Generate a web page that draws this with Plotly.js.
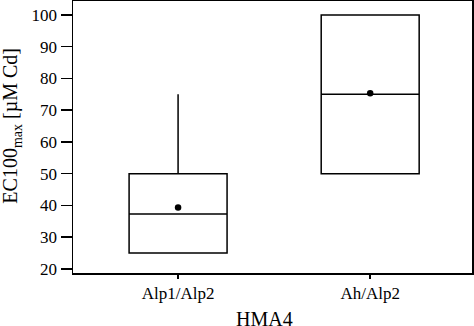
<!DOCTYPE html>
<html>
<head>
<meta charset="utf-8">
<script src="https://cdn.plot.ly/plotly-3.0.1.min.js"></script>
<style>html,body{margin:0;padding:0;background:#fff;}#chart{width:474px;height:326px;}</style>
</head>
<body>
<div id="chart"></div>
<script>
const categories = ["Alp1/Alp2", "Ah/Alp2"];
const lowerWhisker = [25, 50];
const q1Values = [25, 50];
const medianValues = [37.3, 75];
const q3Values = [50, 100];
const upperWhisker = [75, 100];
const meanValues = [39.3, 75.3];
const yTicks = [20, 30, 40, 50, 60, 70, 80, 90, 100];
const xTitle = "HMA4";
const yTitle = "EC100<sub>max</sub> [µM Cd]";

const font = "Liberation Serif, Times New Roman, serif";

const boxTrace = {
  type: "box",
  x: categories,
  q1: q1Values,
  median: medianValues,
  q3: q3Values,
  lowerfence: lowerWhisker,
  upperfence: upperWhisker,
  line: {color: "#000", width: 1.5},
  fillcolor: "rgba(255,255,255,0)",
  whiskerwidth: 0,
  width: 0.51,
  boxpoints: false,
  hoverinfo: "skip",
  showlegend: false
};

const meanTrace = {
  type: "scatter",
  mode: "markers",
  x: categories,
  y: meanValues,
  marker: {color: "#000", size: 6.5},
  hoverinfo: "skip",
  showlegend: false
};

const layout = {
  width: 474,
  height: 326,
  margin: {l: 73, r: 2, t: 1, b: 53},
  paper_bgcolor: "#fff",
  plot_bgcolor: "#fff",
  font: {family: font, color: "#000", size: 17},
  showlegend: false,
  xaxis: {
    type: "category",
    range: [-0.547, 1.53],
    showline: true, mirror: true, linecolor: "#000", linewidth: 1.5,
    ticks: "outside", ticklen: 4, tickwidth: 1.5, tickcolor: "#000",
    showgrid: false, zeroline: false,
    tickfont: {family: font, size: 17, color: "#000"}
  },
  yaxis: {
    range: [18.7, 104.4],
    tickvals: yTicks,
    ticktext: yTicks.map(String),
    showline: true, mirror: true, linecolor: "#000", linewidth: 1.5,
    ticks: "outside", ticklen: 11, tickwidth: 1.5, tickcolor: "#000",
    showgrid: false, zeroline: false,
    tickfont: {family: font, size: 17, color: "#000"}
  },
  annotations: [
    {text: xTitle, xref: "paper", yref: "paper", x: 0.481, y: -0.122,
     xanchor: "center", yanchor: "top", showarrow: false,
     font: {family: font, size: 20, color: "#000"}},
    {text: yTitle, xref: "paper", yref: "paper", x: -0.154, y: 0.54,
     xanchor: "center", yanchor: "middle", showarrow: false, textangle: -90,
     font: {family: font, size: 20, color: "#000"}}
  ]
};

Plotly.newPlot("chart", [boxTrace, meanTrace], layout, {staticPlot: true, displayModeBar: false});
</script>
</body>
</html>
